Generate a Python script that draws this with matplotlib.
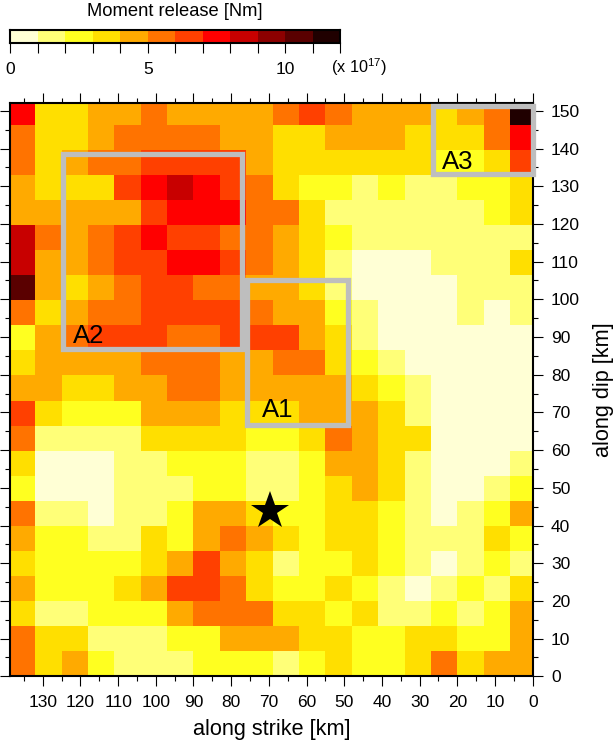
import numpy as np
import matplotlib
matplotlib.use('Agg')
import matplotlib.pyplot as plt
from matplotlib.colors import ListedColormap, BoundaryNorm
from matplotlib.patches import Rectangle

plt.rcParams['font.family'] = ['Liberation Sans', 'DejaVu Sans']
plt.rcParams['mathtext.default'] = 'regular'

W, H = 615, 742

# moment release bins [x 10^17 Nm], rows top -> bottom, columns left (far along strike) -> right
moment_bins = [
    [7, 3, 3, 4, 4, 5, 4, 4, 4, 4, 5, 6, 5, 4, 4, 4, 3, 4, 5, 11],
    [5, 3, 3, 4, 5, 5, 5, 5, 4, 4, 3, 3, 4, 4, 4, 3, 3, 3, 5, 7],
    [5, 3, 4, 5, 5, 6, 6, 6, 6, 4, 3, 3, 3, 3, 3, 3, 2, 2, 3, 6],
    [4, 3, 3, 3, 6, 7, 8, 7, 6, 5, 3, 2, 2, 1, 2, 1, 1, 2, 2, 3],
    [4, 4, 4, 4, 4, 6, 7, 7, 7, 5, 5, 3, 1, 1, 1, 1, 1, 1, 2, 3],
    [8, 5, 4, 5, 6, 7, 6, 6, 5, 5, 4, 3, 2, 1, 1, 1, 1, 1, 1, 1],
    [8, 4, 4, 5, 6, 6, 7, 7, 6, 5, 4, 3, 1, 0, 0, 0, 1, 1, 1, 3],
    [10, 4, 3, 4, 5, 6, 6, 5, 5, 4, 4, 3, 1, 0, 0, 0, 0, 1, 1, 1],
    [5, 3, 4, 5, 5, 6, 6, 6, 6, 5, 4, 4, 2, 1, 0, 0, 0, 1, 0, 1],
    [2, 4, 5, 6, 6, 6, 5, 5, 6, 6, 6, 4, 3, 1, 0, 0, 0, 0, 0, 0],
    [3, 4, 4, 4, 4, 5, 5, 5, 4, 4, 5, 5, 3, 2, 1, 0, 0, 0, 0, 0],
    [4, 4, 3, 3, 4, 4, 5, 5, 4, 4, 4, 4, 4, 3, 2, 1, 0, 0, 0, 0],
    [6, 3, 2, 2, 2, 4, 4, 4, 3, 3, 3, 4, 4, 4, 3, 1, 0, 0, 0, 0],
    [5, 1, 1, 1, 1, 3, 3, 3, 3, 2, 2, 3, 5, 4, 3, 3, 0, 0, 0, 0],
    [3, 0, 0, 0, 1, 1, 2, 2, 2, 1, 1, 2, 4, 4, 3, 1, 0, 0, 0, 1],
    [2, 0, 0, 0, 1, 1, 1, 2, 2, 1, 1, 2, 3, 4, 3, 1, 0, 0, 1, 2],
    [5, 1, 1, 0, 1, 1, 2, 4, 4, 3, 2, 2, 3, 3, 2, 1, 0, 1, 2, 4],
    [4, 2, 2, 1, 1, 3, 2, 4, 5, 4, 3, 2, 3, 3, 2, 1, 1, 1, 3, 2],
    [3, 2, 2, 2, 2, 3, 4, 6, 4, 3, 1, 2, 2, 3, 2, 1, 0, 1, 2, 1],
    [4, 2, 2, 2, 3, 4, 6, 6, 5, 3, 2, 2, 3, 2, 1, 0, 1, 2, 1, 3],
    [3, 1, 1, 2, 2, 2, 4, 5, 5, 5, 3, 3, 2, 3, 1, 1, 2, 1, 2, 4],
    [5, 3, 3, 1, 1, 1, 2, 2, 4, 4, 4, 3, 3, 2, 2, 3, 3, 2, 2, 4],
    [5, 3, 4, 2, 1, 1, 1, 2, 2, 2, 1, 2, 3, 2, 2, 3, 5, 3, 4, 4],
]
level_colors = ['#FFFFD5', '#FFFF78', '#FFFF20', '#FFDF00', '#FFAA00', '#FF7300',
                '#FF4000', '#FF0000', '#C80000', '#8C0000', '#5A0000', '#200000']
level_bounds = list(range(13))
cbar_labels = ['0', '', '', '', '', '5', '', '', '', '', '10', '', '']

# asperity boxes: name, strike left/right, dip low/high, label position
box_names = ['A1', 'A2', 'A3']
box_strike = [(75.7, 49.0), (124.6, 77.0), (26.4, 0.0)]
box_dip = [(66.7, 105.1), (86.8, 138.5), (133.2, 151.3)]
box_label_xy = [(71.8, 68.8), (122, 88.4), (24, 134.7)]
hypo_strike, hypo_dip = 69.7, 43.8

cmap = ListedColormap(level_colors)
norm = BoundaryNorm(level_bounds, cmap.N)
BOX_GREY = '#BEBEBE'

fig = plt.figure(figsize=(W / 100, H / 100), dpi=100)


def px_axes(x0, y0, x1, y1):
    return fig.add_axes([x0 / W, 1 - y1 / H, (x1 - x0) / W, (y1 - y0) / H])


# ── Main map ───────────────────────────────────────────────
ax = px_axes(10.3, 103.3, 532.7, 676.3)
z = np.array(moment_bins)[::-1, ::-1] + 0.5
x_edges = -1 + 7.0 * np.arange(z.shape[1] + 1)
y_edges = 6.65 * np.arange(z.shape[0] + 1)
ax.pcolormesh(x_edges, y_edges, z, cmap=cmap, norm=norm, linewidth=0, rasterized=True)
ax.set_xlim(138.6, 0)
ax.set_ylim(0, 152)

ax.set_xticks(np.arange(0, 131, 10))
ax.set_xticks(np.arange(5, 136, 10), minor=True)
ax.set_yticks(np.arange(0, 151, 10))
ax.set_yticks(np.arange(5, 151, 10), minor=True)
ax.tick_params(which='major', direction='out', length=7.2, width=0.8, labelsize=12.5,
               top=True, bottom=True, left=True, right=True,
               labelleft=False, labelright=True, pad=6)
ax.tick_params(which='minor', direction='out', length=3.6, width=0.8,
               top=True, bottom=True, left=True, right=True)
for s in ax.spines.values():
    s.set_linewidth(1.5)
ax.set_xlabel('along strike [km]', fontsize=15.6, labelpad=6.5)
ax.yaxis.set_label_position('right')
ax.set_ylabel('along dip [km]', fontsize=15.6, labelpad=9)

for name, (s0, s1), (d0, d1), (lx, ly) in zip(box_names, box_strike, box_dip, box_label_xy):
    ax.add_patch(Rectangle((s0, d0), s1 - s0, d1 - d0, fill=False, edgecolor=BOX_GREY,
                           linewidth=3.8, clip_on=False, zorder=6))
    ax.text(lx, ly, name, fontsize=18.5, color='black', ha='left', va='baseline', zorder=7)

ax.plot([hypo_strike], [hypo_dip], marker='*', color='black', markersize=29,
        markeredgewidth=0, linestyle='none', zorder=8)

# ── Colour scale ───────────────────────────────────────────
cax = px_axes(10.3, 30, 340, 43)
cax.pcolormesh(level_bounds, [0, 1], (np.array(level_bounds[:-1]) + 0.5).reshape(1, -1),
               cmap=cmap, norm=norm)
cax.set_yticks([])
cax.set_xticks(level_bounds, labels=cbar_labels)
cax.tick_params(axis='x', length=7, width=0.8, labelsize=12.5, pad=7)
for s in cax.spines.values():
    s.set_linewidth(1.5)
fig.text(175 / W, 1 - 11.5 / H, 'Moment release [Nm]', fontsize=13.2, ha='center', va='center')
fig.text(358.5 / W, 1 - 67 / H, '(x 10$^{17}$)', fontsize=11.7, ha='center', va='center')

fig.savefig('out.png', dpi=100)
